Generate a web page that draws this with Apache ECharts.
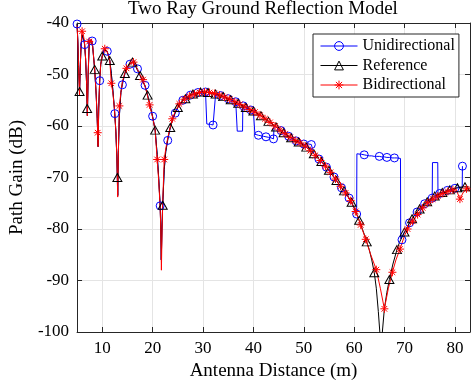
<!DOCTYPE html>
<html><head><meta charset="utf-8">
<script src="https://cdn.jsdelivr.net/npm/echarts@6/dist/echarts.min.js"></script>
<style>html,body{margin:0;padding:0;background:#fff}#c{width:474px;height:386px}</style>
</head><body><div id="c"></div>
<script>
// ---- data ----
const seriesNames = ['Unidirectional', 'Reference', 'Bidirectional'];

// Reference (two-ray model) line
const refPts = [[5.0,-40.2],[5.15,-43.5],[5.3,-48.5],[5.5,-53.3],[5.65,-48],[5.8,-44.5],[6.0,-42.3],[6.2,-42.0],[6.45,-43.5],[6.7,-47],[6.9,-52],[7.0,-56.6],[7.05,-58],[7.2,-50],[7.4,-44.5],[7.6,-43.3],[7.85,-43.1],[8.1,-44.5],[8.3,-46.8],[8.5,-49],[8.8,-54],[9.0,-58.5],[9.17,-64],[9.3,-56.5],[9.5,-51],[9.7,-48],[10.0,-46.4],[10.3,-45.3],[10.6,-45.0],[10.9,-45.4],[11.2,-46.2],[11.5,-47.3],[11.8,-49.8],[12.1,-53],[12.4,-56.5],[12.7,-61],[12.9,-66],[13.0,-70.0],[13.07,-73.5],[13.2,-65],[13.4,-58],[13.7,-53.5],[14.0,-51.5],[14.5,-49.8],[15.0,-48.5],[15.5,-47.9],[16.0,-47.6],[16.5,-48.2],[17.0,-49.2],[17.5,-50.2],[18.0,-51.3],[18.5,-52.3],[19.0,-54.0],[19.5,-56.0],[20.0,-58.3],[20.5,-60.8],[20.9,-65.5],[21.2,-70],[21.5,-75.5],[21.62,-80],[21.72,-86],[21.85,-80],[22.0,-75.4],[22.3,-68.5],[22.6,-65],[23.0,-62.5],[23.5,-60.3],[24.0,-58.6],[24.5,-57.3],[25.0,-56.4],[25.5,-55.7],[26.0,-55.1],[26.5,-54.7],[27.0,-54.3],[28.0,-53.8],[29.0,-53.5],[29.5,-53.4],[30.0,-53.4],[31.0,-53.5],[32.0,-53.7],[32.5,-53.8],[33.0,-54.0],[34.0,-54.3],[35.0,-54.7],[35.5,-54.9],[36.0,-55.1],[37.0,-55.6],[38.0,-56.1],[38.5,-56.4],[39.0,-56.6],[40.0,-57.1],[41.0,-57.7],[41.5,-58.0],[42.0,-58.4],[43.0,-59.1],[44.0,-59.8],[44.5,-60.2],[45.0,-60.6],[46.0,-61.3],[47.0,-62.0],[47.5,-62.3],[48.0,-62.6],[49.0,-63.1],[50.0,-63.7],[50.5,-64.1],[51.0,-64.5],[52.0,-65.4],[53.0,-66.4],[53.5,-66.9],[54.0,-67.4],[55.0,-68.6],[56.0,-69.9],[56.5,-70.6],[57.0,-71.3],[58.0,-72.6],[59.0,-74.0],[59.5,-74.8],[60.0,-75.9],[61.0,-78.3],[62.0,-81.0],[62.5,-82.5],[63.0,-84.0],[63.5,-86.0],[64.0,-88.5],[64.4,-91.5],[64.8,-96],[65.1,-100],[65.35,-110],[65.6,-100],[66.0,-95.5],[66.5,-92.3],[67.0,-89.8],[67.7,-86.8],[68.5,-84.0],[69.0,-82.6],[70.0,-80.6],[71.0,-78.8],[71.5,-78.0],[72.0,-77.3],[73.0,-76.1],[74.0,-75.1],[74.5,-74.7],[75.0,-74.3],[76.0,-73.6],[77.0,-73.1],[77.5,-72.9],[78.0,-72.7],[79.0,-72.4],[80.0,-72.1],[80.5,-72.0],[81.0,-71.9],[82.0,-71.8],[82.5,-71.8]];
const refMarkX = [5.5,7,8.5,10,11.5,13,14.5,16,17.5,19,20.5,22,23.5,25,26.5,28,29.5,31,32.5,34,35.5,37,38.5,40,41.5,43,44.5,46,47.5,49,50.5,52,53.5,55,56.5,58,59.5,61,62.5,64,67,68.5,70,71.5,73,74.5,76,77.5,79,80.5,82];

// Unidirectional line
const uniPts = [[5.0,-40.2],[5.15,-43.5],[5.3,-48.5],[5.5,-53.3],[5.65,-48],[5.8,-44.5],[6.0,-42.3],[6.2,-42.0],[6.5,-44.2],[6.7,-47],[6.9,-52],[7.05,-58],[7.2,-50],[7.4,-44.5],[7.6,-43.3],[8.0,-43.5],[8.3,-46.8],[8.5,-49],[8.8,-54],[9.0,-58.5],[9.17,-64],[9.3,-56.5],[9.5,-51.2],[9.7,-48],[10.0,-46.4],[10.3,-45.3],[10.6,-45.0],[11.0,-45.5],[11.5,-47.3],[11.8,-49.8],[12.1,-53],[12.5,-57.6],[12.7,-61],[12.9,-66],[13.07,-73.5],[13.2,-65],[13.4,-58],[13.7,-53.5],[14.0,-52.0],[14.5,-49.8],[15.0,-48.5],[15.5,-48.0],[16.0,-47.6],[16.5,-48.2],[17.0,-48.9],[17.5,-50.2],[18.0,-51.3],[18.5,-52.1],[19.0,-54.0],[19.5,-56.0],[20.0,-58.1],[20.5,-60.8],[20.9,-65.5],[21.2,-70],[21.5,-75.5],[21.62,-80],[21.72,-86],[21.85,-80],[22.0,-75.4],[22.3,-68.5],[22.6,-65],[23.0,-62.8],[23.5,-60.3],[24.0,-58.6],[24.5,-57.5],[25.0,-56.4],[25.5,-55.7],[26.0,-55.0],[27.0,-54.3],[27.5,-54.0],[28.0,-53.8],[29.0,-53.5],[30.0,-53.4],[30.5,-53.4],[30.7,-53.4],[30.75,-59.6],[31.5,-59.7],[32.0,-59.8],[32.5,-53.8],[33.0,-54.0],[33.5,-54.1],[34.0,-54.3],[35.0,-54.7],[36.0,-55.1],[36.5,-55.3],[36.75,-55.4],[36.8,-61.0],[37.85,-61.0],[37.9,-56.1],[38.0,-56.1],[39.0,-56.6],[39.5,-56.9],[40.0,-57.1],[40.25,-57.2],[40.3,-61.6],[41.0,-61.8],[41.5,-61.9],[42.0,-62.0],[42.5,-62.1],[43.0,-62.2],[43.5,-62.3],[44.0,-62.5],[44.1,-60.1],[44.5,-60.2],[45.0,-60.6],[45.5,-60.9],[46.0,-61.3],[47.0,-62.0],[48.0,-62.6],[48.5,-62.9],[49.0,-63.1],[50.0,-63.5],[50.4,-63.8],[50.45,-63.4],[51.0,-63.5],[51.5,-63.6],[52.0,-65.4],[53.0,-66.4],[54.0,-67.4],[54.5,-68.0],[55.0,-68.6],[56.0,-69.9],[57.0,-71.3],[57.5,-72.0],[58.0,-72.6],[59.0,-74.0],[60.0,-75.9],[60.5,-77.1],[60.55,-65.4],[61.5,-65.5],[62.0,-65.6],[62.5,-65.7],[63.0,-65.8],[63.5,-65.8],[64.0,-65.9],[64.5,-65.9],[65.0,-65.9],[65.5,-66.0],[66.0,-66.0],[66.5,-66.1],[67.0,-66.1],[67.5,-66.2],[68.0,-66.2],[68.5,-66.2],[69.2,-66.3],[69.25,-81.9],[69.5,-82.1],[70.0,-80.6],[71.0,-78.8],[72.0,-77.3],[72.5,-76.7],[73.0,-76.1],[74.0,-75.1],[75.0,-74.3],[75.5,-74.0],[75.55,-67.1],[76.6,-67.1],[76.65,-73.5],[77.0,-73.1],[78.0,-72.7],[78.5,-72.5],[79.0,-72.4],[80.0,-72.1],[80.5,-72.0],[81.0,-71.9],[81.45,-71.9],[81.5,-67.8]];
const uniMarkX = [5,6.5,8,9.5,11,12.5,14,15.5,17,18.5,20,21.5,23,24.5,26,27.5,29,30.5,32,33.5,35,36.5,38,39.5,41,42.5,44,45.5,47,48.5,50,51.5,53,54.5,56,57.5,59,60.5,62,65,66.5,68,69.5,71,72.5,74,75.5,77,78.5,80,81.5];

// Bidirectional line
const bidPts = [[5.0,-40.5],[5.15,-43.5],[5.3,-48.5],[5.48,-54],[5.65,-48],[5.8,-44],[6.0,-41.6],[6.2,-42.0],[6.45,-43.5],[6.7,-47],[6.9,-52],[7.05,-58],[7.2,-50],[7.4,-43.6],[7.6,-43.3],[7.85,-43.1],[8.1,-44.5],[8.3,-46.8],[8.5,-49],[8.8,-54],[9.1,-61.3],[9.17,-64],[9.3,-56.5],[9.5,-51],[9.7,-48],[10.0,-46.4],[10.5,-45.0],[10.9,-45.4],[11.2,-46.2],[11.5,-47.3],[11.8,-51.7],[12.1,-53.5],[12.4,-56.5],[12.7,-61],[12.9,-66],[13.07,-73.8],[13.2,-65],[13.4,-56.1],[13.7,-53.5],[14.0,-51.5],[14.4,-50.0],[14.8,-48.8],[15.5,-47.9],[16.2,-47.6],[16.8,-48.6],[17.4,-49.9],[18.1,-51.0],[18.7,-53.0],[19.4,-55.9],[20.0,-58.3],[20.5,-60.8],[20.9,-66.5],[21.2,-70.5],[21.5,-76],[21.62,-80],[21.74,-88],[21.88,-80],[22.0,-75],[22.3,-66.5],[22.6,-64.5],[23.0,-62.3],[23.5,-60.2],[23.9,-58.6],[24.5,-57.2],[25.3,-55.7],[26.3,-54.8],[27.3,-54.2],[28.3,-53.8],[29.3,-53.5],[30.3,-53.4],[31.3,-53.5],[32.3,-53.7],[33.3,-54.0],[34.3,-54.4],[35.3,-54.8],[36.3,-55.3],[37.3,-55.8],[38.3,-56.3],[39.3,-56.8],[40.3,-57.3],[41.3,-57.9],[42.3,-58.6],[43.3,-59.3],[44.3,-60.0],[45.3,-60.8],[46.3,-61.5],[47.3,-62.2],[48.3,-62.8],[49.3,-63.3],[50.3,-63.9],[51.3,-64.8],[52.3,-65.7],[53.3,-66.7],[54.3,-67.8],[55.3,-69.0],[56.3,-70.3],[57.3,-71.7],[58.3,-73.0],[59.3,-74.5],[60.3,-76.6],[61.3,-79.2],[62.3,-82.0],[63.3,-85.0],[64.4,-87.9],[65.2,-91.5],[66.0,-95.5],[66.8,-91.5],[67.6,-88.4],[68.3,-86.0],[69.1,-83.9],[70.0,-81.3],[70.6,-80.0],[71.6,-78.5],[72.6,-77.2],[73.6,-75.9],[74.6,-74.9],[75.6,-74.2],[76.6,-73.6],[77.6,-73.1],[78.6,-72.7],[79.6,-72.4],[80.3,-72.4],[81.0,-74.2],[81.6,-73.0],[82.3,-72.2],[83.0,-72.0]];
const bidMarkX = [6.0,7.4,9.1,10.5,11.8,13.4,14.8,16.2,18.1,19.4,20.9,22.3,23.9,25.3,26.3,27.3,28.3,29.3,30.3,31.3,32.3,33.3,34.3,35.3,36.3,37.3,38.3,39.3,40.3,41.3,42.3,43.3,44.3,45.3,46.3,47.3,48.3,49.3,50.3,51.3,52.3,53.3,54.3,55.3,56.3,57.3,58.3,59.3,60.3,61.3,62.3,64.4,66.0,67.6,69.1,70.6,71.6,72.6,73.6,74.6,75.6,76.6,77.6,78.6,79.6,81.0,82.3];

// ---- chart ----
const FONT = '"Liberation Serif", "Times New Roman", Times, serif';
const AX = '#262626';
const GRID = '#e4e4e4';
function build(pts, marks) {
  return pts.map(function (p) {
    const m = marks.some(function (x) { return Math.abs(x - p[0]) < 1e-6; });
    return m ? { value: p } : { value: p, symbol: 'none' };
  });
}
const STAR = 'path://M5,0L5,10M0,5L10,5M1.5,1.5L8.5,8.5M8.5,1.5L1.5,8.5';

const chart = echarts.init(document.getElementById('c'), null, { renderer: 'canvas' });
const xCommon = { type: 'value', min: 5, max: 83, splitNumber: 8 };
const yCommon = { type: 'value', min: -100, max: -40, interval: 10 };
chart.setOption({
  animation: false,
  backgroundColor: '#fff',
  title: {
    text: 'Two Ray Ground Reflection Model', left: 128, top: 0, padding: 0,
    textStyle: { fontFamily: FONT, fontSize: 19, fontWeight: 'normal', color: '#000' }
  },
  grid: { left: 62, right: 4, top: 23, bottom: 50, containLabel: false },
  legend: {
    orient: 'vertical', left: 313, top: 34,
    padding: [4, 4, 4, 7], itemWidth: 37, itemHeight: 11, itemGap: 3.5,
    backgroundColor: '#fff', borderColor: AX, borderWidth: 1, borderRadius: 0,
    lineStyle: { width: 1 },
    itemStyle: { borderWidth: 1 },
    textStyle: { fontFamily: FONT, fontSize: 16, color: '#000', lineHeight: 16 },
    data: seriesNames
  },
  xAxis: [
    Object.assign({}, xCommon, {
      position: 'bottom',
      axisLine: { show: true, onZero: false, lineStyle: { color: AX, width: 1 } },
      axisTick: { show: true, inside: true, length: 5, lineStyle: { color: AX } },
      axisLabel: { color: '#000', fontFamily: FONT, fontSize: 17, margin: 8,
        formatter: function (v) { return Math.abs(v % 10) < 1e-9 ? String(v) : ''; } },
      splitLine: { show: true, lineStyle: { color: GRID, width: 1 } },
      name: 'Antenna Distance (m)', nameLocation: 'middle', nameGap: 30,
      nameTextStyle: { fontFamily: FONT, fontSize: 19, color: '#000' }
    }),
    Object.assign({}, xCommon, {
      position: 'top',
      axisLine: { show: true, onZero: false, lineStyle: { color: AX, width: 1 } },
      axisTick: { show: true, inside: true, length: 5, lineStyle: { color: AX } },
      axisLabel: { show: false }, splitLine: { show: false }
    })
  ],
  yAxis: [
    Object.assign({}, yCommon, {
      position: 'left',
      axisLine: { show: true, onZero: false, lineStyle: { color: AX, width: 1 } },
      axisTick: { show: true, inside: true, length: 5, lineStyle: { color: AX } },
      axisLabel: { color: '#000', fontFamily: FONT, fontSize: 17, margin: 8 },
      splitLine: { show: true, lineStyle: { color: GRID, width: 1 } },
      name: 'Path Gain (dB)', nameLocation: 'middle', nameGap: 45, nameRotate: 90,
      nameTextStyle: { fontFamily: FONT, fontSize: 19, color: '#000' }
    }),
    Object.assign({}, yCommon, {
      position: 'right',
      axisLine: { show: true, onZero: false, lineStyle: { color: AX, width: 1 } },
      axisTick: { show: true, inside: true, length: 5, lineStyle: { color: AX } },
      axisLabel: { show: false }, splitLine: { show: false }
    })
  ],
  series: [
    {
      name: seriesNames[0], type: 'line', data: build(uniPts, uniMarkX),
      symbol: 'circle', symbolSize: 8, showAllSymbol: true, silent: true, clip: true,
      lineStyle: { color: '#0000ff', width: 1 },
      itemStyle: { color: 'rgba(0,0,0,0)', borderColor: '#0000ff', borderWidth: 1 }
    },
    {
      name: seriesNames[1], type: 'line', data: build(refPts, refMarkX),
      symbol: 'triangle', symbolSize: [9, 8], showAllSymbol: true, silent: true, clip: true,
      lineStyle: { color: '#000000', width: 1 },
      itemStyle: { color: 'rgba(0,0,0,0)', borderColor: '#000000', borderWidth: 1 }
    },
    {
      name: seriesNames[2], type: 'line', data: build(bidPts, bidMarkX),
      symbol: STAR, symbolSize: 8, showAllSymbol: true, silent: true, clip: true,
      lineStyle: { color: '#ff0000', width: 1 },
      itemStyle: { color: '#ff0000', borderColor: '#ff0000', borderWidth: 1 }
    }
  ]
});
</script>
</body></html>
